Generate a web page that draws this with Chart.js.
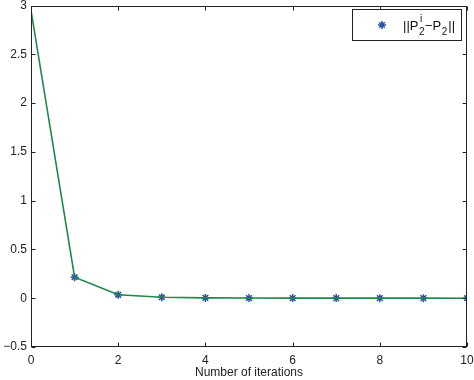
<!DOCTYPE html>
<html><head><meta charset="utf-8">
<script src="https://cdn.jsdelivr.net/npm/chart.js@4.4.0/dist/chart.umd.min.js"></script>
<style>html,body{margin:0;padding:0;background:#fff}#wrap{width:474px;height:380px}</style>
</head><body><div id="wrap"><canvas id="c" width="474" height="380"></canvas></div>
<script>
const iterations = [0,1,2,3,4,5,6,7,8,9,10];
const normValues = [2.95,0.215,0.035,0.01,0.003,0.002,0.001,0.001,0.0005,0.0005,0.0003];
const markerIterations = [1,2,3,4,5,6,7,8,9,10];
const xTicks = [0,2,4,6,8,10];
const yTicks = [-0.5,0,0.5,1,1.5,2,2.5,3];
const xTitle = 'Number of iterations';

const lineData = iterations.map((x,i)=>({x:x,y:normValues[i]}));
const markerData = markerIterations.map(x=>({x:x,y:normValues[iterations.indexOf(x)]}));
const FONT = '"Liberation Sans", Arial, Helvetica, sans-serif';

function fmt(v){ return (v<0?'\u2212':'') + String(Math.abs(v)); }

const framePlugin = {
  id:'frame',
  afterDatasetsDraw(chart){
    const {ctx, chartArea:a, scales} = chart;
    ctx.save();
    ctx.strokeStyle = '#222'; ctx.lineWidth = 1;
    const L=Math.round(a.left)+0.5, R=Math.round(a.right)-0.5, T=Math.round(a.top)+0.5, B=Math.round(a.bottom)-0.5;
    ctx.strokeRect(L, T, R-L, B-T);
    const tl = 4;
    ctx.beginPath();
    xTicks.forEach(v=>{
      const px = Math.round(scales.x.getPixelForValue(v))+0.5;
      ctx.moveTo(px,B); ctx.lineTo(px,B-tl);
      ctx.moveTo(px,T); ctx.lineTo(px,T+tl);
    });
    yTicks.forEach(v=>{
      const py = Math.round(scales.y.getPixelForValue(v))+0.5;
      ctx.moveTo(L,py); ctx.lineTo(L+tl,py);
      ctx.moveTo(R,py); ctx.lineTo(R-tl,py);
    });
    ctx.stroke();
    const bx=352.5, by=9.5, bw=109, bh=31;
    ctx.fillStyle='#fff'; ctx.fillRect(bx,by,bw,bh);
    ctx.strokeStyle='#222'; ctx.strokeRect(bx,by,bw,bh);
    const cx=382, cy=25, r=4;
    ctx.strokeStyle='#2850a0'; ctx.lineWidth=1.5;
    ctx.beginPath();
    for(let k=0;k<4;k++){
      const ang = k*Math.PI/4;
      ctx.moveTo(cx+Math.cos(ang)*r, cy+Math.sin(ang)*r);
      ctx.lineTo(cx-Math.cos(ang)*r, cy-Math.sin(ang)*r);
    }
    ctx.stroke();
    ctx.fillStyle='#111'; ctx.textBaseline='alphabetic'; ctx.textAlign='left';
    const big = '13px '+FONT, small='10px '+FONT;
    let x=403; const base=30;
    ctx.font=big; ctx.fillText('||P',x,base); x+=ctx.measureText('||P').width+0.5;
    ctx.font=small; ctx.fillText('i',x+1,base-8); ctx.fillText('2',x,base+5); x+=ctx.measureText('2').width+0.5;
    ctx.font=big; ctx.fillText('\u2212P',x,base); x+=ctx.measureText('\u2212P').width+0.5;
    ctx.font=small; ctx.fillText('2',x,base+5); x+=ctx.measureText('2').width+1;
    ctx.font=big; ctx.fillText('||',x,base);
    ctx.restore();
  }
};

new Chart(document.getElementById('c'), {
  type:'line',
  data:{datasets:[
    {label:'line', data:lineData, borderColor:'#1b8a4a', borderWidth:1.6, pointRadius:0, fill:false, tension:0},
    {label:'||P^i_2-P_2||', data:markerData, showLine:false, pointStyle:'star', pointRadius:4, borderColor:'#2850a0', backgroundColor:'#2850a0', pointBorderWidth:1.5}
  ]},
  options:{
    responsive:false, animation:false, devicePixelRatio:1,
    layout:{padding:{left:0,top:3,right:7,bottom:0}},
    plugins:{legend:{display:false}, tooltip:{enabled:false}},
    scales:{
      x:{type:'linear', min:0, max:10,
        afterBuildTicks(s){ s.ticks = xTicks.map(v=>({value:v})); },
        afterFit(s){ s.height = 33; s.paddingLeft = 0; s.paddingRight = 0; },
        grid:{display:false, drawTicks:false}, border:{display:false},
        ticks:{font:{family:FONT,size:12}, color:'#222', padding:6, maxRotation:0, callback:v=>fmt(v)},
        title:{display:true, text:xTitle, font:{family:FONT,size:12}, color:'#222', padding:{top:0,bottom:0}}
      },
      y:{type:'linear', min:-0.5, max:3,
        afterBuildTicks(s){ s.ticks = yTicks.map(v=>({value:v})); },
        afterFit(s){ s.width = 31; s.paddingTop = 0; s.paddingBottom = 0; },
        grid:{display:false, drawTicks:false}, border:{display:false},
        ticks:{font:{family:FONT,size:12}, color:'#222', padding:4, callback:v=>fmt(v)}
      }
    }
  },
  plugins:[framePlugin]
});
</script></body></html>
